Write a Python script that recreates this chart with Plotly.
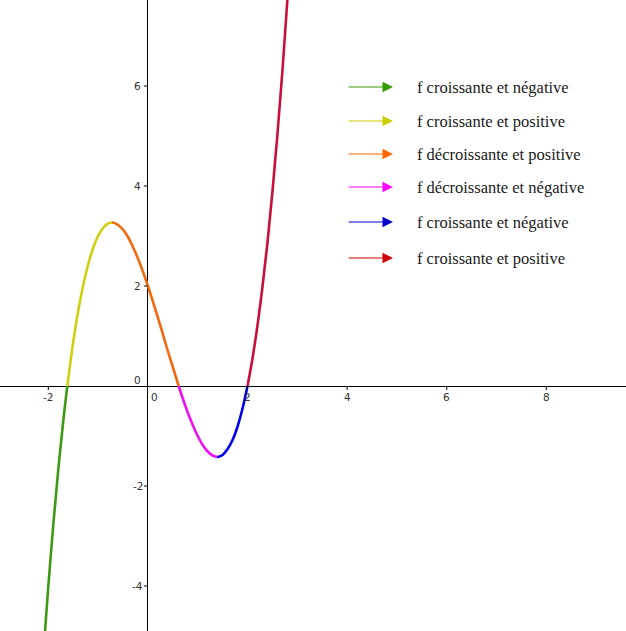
import plotly.graph_objects as go

# points
curve_x = [-2.1, -2.0, -1.9, -1.8, -1.7, -1.618, -1.6, -1.5, -1.4, -1.3, -1.2, -1.1,
           -1.0, -0.9, -0.8, -0.721, -0.7, -0.6, -0.5, -0.4, -0.3, -0.2, -0.1,
           0.0, 0.1, 0.2, 0.3, 0.4, 0.5, 0.618, 0.7, 0.8, 0.9, 1.0, 1.1, 1.2, 1.3,
           1.387, 1.4, 1.5, 1.6, 1.7, 1.8, 1.9, 2.0, 2.1, 2.2, 2.3, 2.4, 2.5, 2.6,
           2.7, 2.8, 2.9]
curve_y = [-5.37, -4.0, -2.77, -1.67, -0.70, 0.0, 0.14, 0.88, 1.50, 2.01, 2.43, 2.76,
           3.0, 3.16, 3.25, 3.27, 3.27, 3.22, 3.13, 2.98, 2.78, 2.55, 2.29,
           2.0, 1.69, 1.37, 1.04, 0.70, 0.38, 0.0, -0.25, -0.53, -0.78, -1.0, -1.18,
           -1.31, -1.39, -1.42, -1.42, -1.38, -1.26, -1.08, -0.81, -0.45, 0.0, 0.55,
           1.21, 1.98, 2.86, 3.88, 5.02, 6.29, 7.71, 9.28]

# where the colour changes (roots and extrema)
breaks = [-2.1, -1.618, -0.721, 0.618, 1.387, 2.0, 2.9]
curve_colors = ['#3c9a12', '#cfcf10', '#f26a10', '#ee10ee', '#0000ee', '#c8103a']

legend_labels = ['f croissante et négative', 'f croissante et positive',
                 'f décroissante et positive', 'f décroissante et négative',
                 'f croissante et négative', 'f croissante et positive']
legend_colors = ['#339900', '#cccc00', '#ff6600', '#ff00ff', '#0000cc', '#cc0000']
legend_y = [5.98, 5.30, 4.64, 3.98, 3.28, 2.56]

x_ticks = [-2, 2, 4, 6, 8]
y_ticks = [-4, -2, 2, 4, 6]

fig = go.Figure()

for i, col in enumerate(curve_colors):
    lo, hi = breaks[i], breaks[i + 1]
    xs = [x for x in curve_x if lo <= x <= hi]
    ys = [y for x, y in zip(curve_x, curve_y) if lo <= x <= hi]
    fig.add_trace(go.Scatter(x=xs, y=ys, mode='lines',
                             line=dict(color=col, width=2.6, shape='spline'),
                             hoverinfo='skip', showlegend=False))

annotations = []
shapes = []

# legend: arrows + labels
for lab, col, yy in zip(legend_labels, legend_colors, legend_y):
    annotations.append(dict(x=4.92, y=yy, ax=4.0, ay=yy, xref='x', yref='y',
                            axref='x', ayref='y', text='', showarrow=True,
                            arrowhead=2, arrowsize=1.9, arrowwidth=1.1,
                            arrowcolor=col))
    annotations.append(dict(x=5.36, y=yy, xref='x', yref='y', text=lab,
                            showarrow=False, xanchor='left', yanchor='middle',
                            font=dict(family='Liberation Serif', size=16.5,
                                      color='#1a1a1a')))

tick_font = dict(family='DejaVu Sans', size=10.5, color='#333')

# tick labels and tick marks
for t in x_ticks:
    annotations.append(dict(x=t, y=0, xref='x', yref='y', text=str(t),
                            showarrow=False, yshift=-11, font=tick_font))
    shapes.append(dict(type='line', xref='x', yref='y', ysizemode='pixel',
                       yanchor=0, x0=t, x1=t, y0=0, y1=-4,
                       line=dict(color='black', width=1)))
for t in y_ticks:
    annotations.append(dict(x=0, y=t, xref='x', yref='y', text=str(t),
                            showarrow=False, xshift=-10, font=tick_font))
    shapes.append(dict(type='line', xref='x', yref='y', xsizemode='pixel',
                       xanchor=0, x0=0, x1=-4, y0=t, y1=t,
                       line=dict(color='black', width=1)))
annotations.append(dict(x=0, y=0, xref='x', yref='y', text='0', showarrow=False,
                        xshift=7, yshift=-11, font=tick_font))
annotations.append(dict(x=0, y=0, xref='x', yref='y', text='0', showarrow=False,
                        xshift=-10, yshift=6, font=tick_font))

fig.update_layout(
    width=626,
    height=631,
    margin=dict(l=0, r=0, t=0, b=0),
    paper_bgcolor='white',
    plot_bgcolor='white',
    xaxis=dict(range=[-2.97, 9.6], showgrid=False, showticklabels=False,
               ticks='', zeroline=True, zerolinecolor='black', zerolinewidth=1),
    yaxis=dict(range=[-4.9, 7.72], showgrid=False, showticklabels=False,
               ticks='', zeroline=True, zerolinecolor='black', zerolinewidth=1),
    annotations=annotations,
    shapes=shapes,
)

fig.write_html("out.html", config={"displayModeBar": False},
               post_script="document.body.style.margin='0';"
                           "document.body.style.overflow='hidden';")
